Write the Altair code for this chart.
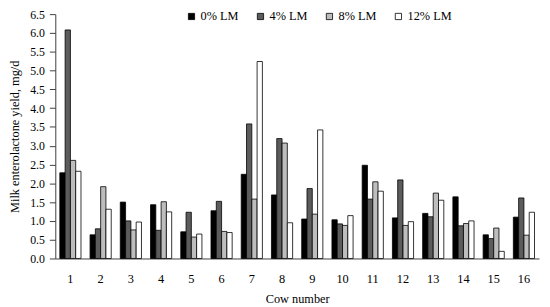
import altair as alt
import pandas as pd

cows = [str(i) for i in range(1, 17)]
groups = ["0% LM", "4% LM", "8% LM", "12% LM"]
lm0 = [2.28, 0.63, 1.50, 1.43, 0.71, 1.27, 2.24, 1.69, 1.05, 1.03, 2.48, 1.08, 1.20, 1.64, 0.63, 1.10]
lm4 = [6.08, 0.79, 1.00, 0.75, 1.23, 1.52, 3.58, 3.19, 1.86, 0.92, 1.58, 2.09, 1.11, 0.87, 0.53, 1.61]
lm8 = [2.61, 1.91, 0.76, 1.51, 0.57, 0.72, 1.58, 3.07, 1.18, 0.88, 2.04, 0.88, 1.74, 0.93, 0.81, 0.62]
lm12 = [2.32, 1.31, 0.97, 1.24, 0.65, 0.69, 5.24, 0.95, 3.42, 1.14, 1.79, 0.98, 1.55, 1.00, 0.19, 1.23]
y_ticks = [0, 0.5, 1, 1.5, 2, 2.5, 3, 3.5, 4, 4.5, 5, 5.5, 6, 6.5]

rows = []
for g, vals in zip(groups, [lm0, lm4, lm8, lm12]):
    for c, v in zip(cows, vals):
        rows.append({"cow": c, "group": g, "value": v})
df = pd.DataFrame(rows)

FONT = "Liberation Serif"

chart = alt.Chart(df).mark_bar(stroke="black", strokeWidth=0.8).encode(
    x=alt.X("cow:N", sort=cows,
            scale=alt.Scale(paddingInner=0.3, paddingOuter=0.15),
            axis=alt.Axis(title="Cow number", labelAngle=0, ticks=False,
                          labelPadding=14, titlePadding=8,
                          domainColor="#404040", labelFont=FONT, titleFont=FONT,
                          labelFontSize=12.5, titleFontSize=12.5,
                          labelColor="black", titleColor="black",
                          titleFontWeight="normal")),
    xOffset=alt.XOffset("group:N", sort=groups,
                        scale=alt.Scale(paddingInner=0, paddingOuter=0)),
    y=alt.Y("value:Q", scale=alt.Scale(domain=[0, 6.5], nice=False),
            axis=alt.Axis(title="Milk enterolactone yield, mg/d", values=y_ticks,
                          format=".1f", grid=False, tickSize=6, labelPadding=5,
                          titlePadding=8, domainColor="#404040", tickColor="#404040",
                          labelFont=FONT, titleFont=FONT, labelFontSize=12,
                          titleFontSize=12.5, labelColor="black", titleColor="black",
                          titleFontWeight="normal")),
    fill=alt.Fill("group:N", sort=groups,
                  scale=alt.Scale(domain=groups,
                                  range=["#000000", "#5c5c5c", "#bdbdbd", "#ffffff"]),
                  legend=alt.Legend(title=None, orient="none", direction="horizontal",
                                    legendX=132, legendY=-4, symbolType="square",
                                    symbolSize=40, symbolStrokeColor="black",
                                    symbolStrokeWidth=0.8, labelFont=FONT,
                                    labelFontSize=12.5, labelColor="black",
                                    columnPadding=15, labelOffset=3)),
).properties(
    width=491,
    height=248,
    autosize=alt.AutoSizeParams(type="none"),
    padding={"left": 48, "top": 4, "right": 3, "bottom": 47},
).configure_view(stroke=None).configure_axis(labelFlush=False)

chart.save("out.html", embed_options={"renderer": "svg", "actions": False})
